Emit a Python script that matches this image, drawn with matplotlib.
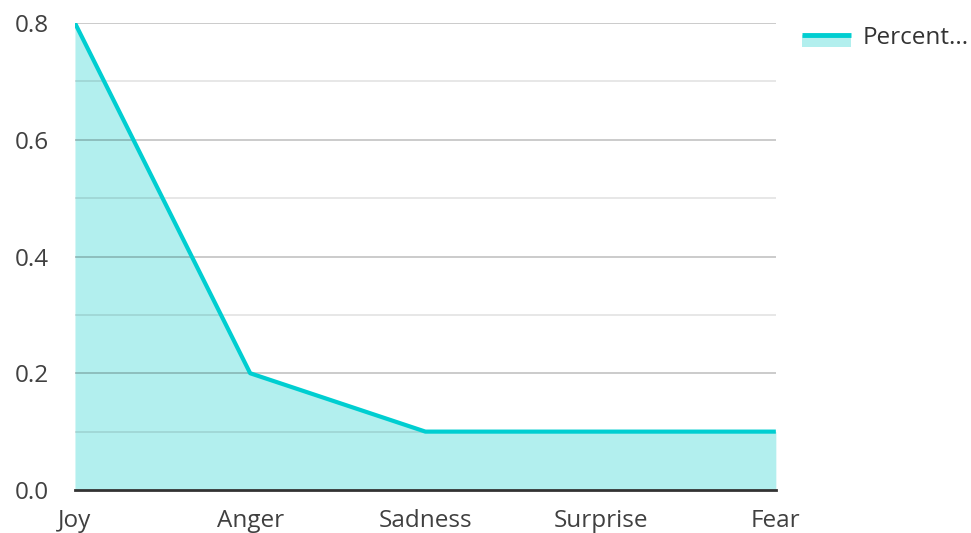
import matplotlib
matplotlib.use("Agg")
import matplotlib.pyplot as plt
from matplotlib.patches import Rectangle
from matplotlib.lines import Line2D
from matplotlib.legend_handler import HandlerBase

categories = ["Joy", "Anger", "Sadness", "Surprise", "Fear"]
percent = [0.8, 0.2, 0.1, 0.1, 0.1]
y_major = [0.0, 0.2, 0.4, 0.6, 0.8]
y_minor = [0.1, 0.3, 0.5, 0.7]
series_name = "Percent..."

LINE = "#00CED1"
FILL = "#B2EFEE"
FS = 17.5

plt.rcParams["font.family"] = ["Open Sans", "DejaVu Sans"]


class AreaHandler(HandlerBase):
    # line on the top edge of a filled block, like the reference legend
    def create_artists(self, legend, orig, xd, yd, w, h, fontsize, trans):
        mid = yd + 0.5 * h
        rect = Rectangle((xd, mid - 0.65 * h), w, 0.68 * h, facecolor=FILL,
                         edgecolor="none", transform=trans)
        ln = Line2D([xd, xd + w], [mid + 0.05 * h] * 2, color=LINE,
                    lw=3.5, transform=trans, solid_capstyle="butt")
        return [rect, ln]


fig = plt.figure(figsize=(9.71, 5.33), dpi=100)
ax = fig.add_axes([0.0772, 0.0807, 0.7218, 0.8761])

x = list(range(len(categories)))
ax.fill_between(x, percent, 0, color=FILL, linewidth=0, zorder=1)
ax.plot(x, percent, color=LINE, lw=3, zorder=3, solid_capstyle="butt")

ax.set_xlim(0, len(categories) - 1)
ax.set_ylim(0, 0.8)
ax.set_yticks(y_major)
ax.set_yticklabels([f"{v:.1f}" for v in y_major])
ax.set_yticks(y_minor, minor=True)
ax.set_xticks(x)
ax.set_xticklabels(categories)

for v in y_major[1:]:
    ax.axhline(v, color="#000000", alpha=0.22, lw=1.3, zorder=2)
for v in y_minor:
    ax.axhline(v, color="#000000", alpha=0.1, lw=1.3, zorder=2)

for s in ["top", "right", "left"]:
    ax.spines[s].set_visible(False)
ax.spines["bottom"].set_color("#333333")
ax.spines["bottom"].set_linewidth(2)
ax.spines["bottom"].set_zorder(4)

ax.tick_params(axis="both", which="both", length=0, labelsize=FS,
               labelcolor="#404040")
ax.tick_params(axis="y", pad=19)
ax.tick_params(axis="x", pad=14)

handle = Rectangle((0, 0), 1, 1)
ax.legend([handle], [series_name], handler_map={Rectangle: AreaHandler()},
          loc="upper left", bbox_to_anchor=(802 / 971, 1 - 26 / 533),
          bbox_transform=fig.transFigure, frameon=False, borderpad=0,
          borderaxespad=0, fontsize=FS, handlelength=2.0, handletextpad=0.5,
          labelcolor="#333333")

fig.savefig("out.png", dpi=100, facecolor="white")
